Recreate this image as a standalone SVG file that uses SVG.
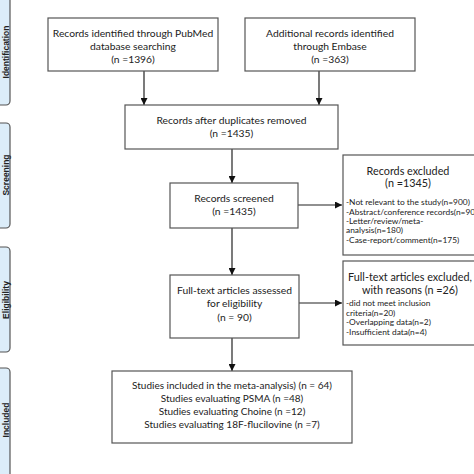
<svg xmlns="http://www.w3.org/2000/svg" width="474" height="474" viewBox="0 0 474 474">
<defs>
<style>
.box{fill:#fff;stroke:#555;stroke-width:1.2}
.tab{fill:#dcedf9;stroke:#555;stroke-width:1.2}
.t{font-family:Lato,"Open Sans",sans-serif;font-size:10.3px;fill:#222;text-anchor:middle}
.h{font-family:Lato,"Open Sans",sans-serif;font-size:10.8px;fill:#222;text-anchor:middle}
.s{font-family:Lato,"Open Sans",sans-serif;font-size:8.4px;fill:#222}
.lab{font-family:"Liberation Sans",Arial,sans-serif;font-size:8.5px;font-weight:bold;fill:#222;text-anchor:middle}
.c{stroke:#222;stroke-width:1.2;fill:none;marker-end:url(#ah)}
</style>
<marker id="ah" viewBox="0 0 10 10" refX="10" refY="5" markerWidth="7" markerHeight="7" markerUnits="userSpaceOnUse" orient="auto">
<path d="M0,0 L10,5 L0,10 z" fill="#111"/>
</marker>
</defs>
<rect width="474" height="474" fill="#fff"/>
<g id="tabs">
<g id="tab-identification"><rect class="tab" x="-20" y="-5" width="30" height="110" rx="4"/><text class="lab" transform="translate(8.5,52) rotate(-90)">Identification</text></g>
<g id="tab-screening"><rect class="tab" x="-20" y="123" width="30" height="105" rx="4"/><text class="lab" transform="translate(8.5,175) rotate(-90)">Screening</text></g>
<g id="tab-eligibility"><rect class="tab" x="-20" y="247" width="30" height="105" rx="4"/><text class="lab" transform="translate(8.5,300) rotate(-90)">Eligibility</text></g>
<g id="tab-included"><rect class="tab" x="-20" y="368" width="30" height="115" rx="4"/><text class="lab" transform="translate(8.5,420) rotate(-90)">Included</text></g>
</g>
<g id="connectors">
<path class="c" d="M144,71 V105"/>
<path class="c" d="M319,71 V105"/>
<path class="c" d="M232,149 V183"/>
<path class="c" d="M298,205 H342"/>
<path class="c" d="M232,228 V275"/>
<path class="c" d="M299,303 H342"/>
<path class="c" d="M232,338 V371"/>
</g>
<g id="n-pubmed"><rect class="box" x="48" y="18" width="170" height="53"/>
<text class="t" x="133" y="37">Records identified through PubMed</text>
<text class="t" x="133" y="50">database searching</text>
<text class="t" x="133" y="63">(n =1396)</text></g>
<g id="n-embase"><rect class="box" x="245" y="18" width="170" height="53"/>
<text class="t" x="330" y="37">Additional records identified</text>
<text class="t" x="330" y="50">through Embase</text>
<text class="t" x="330" y="63">(n =363)</text></g>
<g id="n-dedup"><rect class="box" x="125" y="105" width="213" height="44"/>
<text class="t" x="231.5" y="124">Records after duplicates removed</text>
<text class="t" x="231.5" y="137">(n =1435)</text></g>
<g id="n-screened"><rect class="box" x="170" y="183" width="128" height="45"/>
<text class="t" x="234" y="202">Records screened</text>
<text class="t" x="234" y="215">(n =1435)</text></g>
<g id="n-excluded"><rect class="box" x="343" y="155" width="133" height="100"/>
<text class="h" x="408" y="175">Records excluded</text>
<text class="h" x="408" y="187">(n =1345)</text>
<text class="s" x="346" y="205">-Not relevant to the study(n=900)</text>
<text class="s" x="346" y="214.5">-Abstract/conference records(n=900)</text>
<text class="s" x="346" y="224">-Letter/review/meta-</text>
<text class="s" x="346" y="233">analysis(n=180)</text>
<text class="s" x="346" y="242.5">-Case-report/comment(n=175)</text></g>
<g id="n-fulltext"><rect class="box" x="170" y="275" width="129" height="63"/>
<text class="t" x="234.5" y="294">Full-text articles assessed</text>
<text class="t" x="234.5" y="307">for eligibility</text>
<text class="t" x="234.5" y="321">(n = 90)</text></g>
<g id="n-ftexcluded"><rect class="box" x="343" y="261" width="133" height="84"/>
<text class="h" x="410" y="281">Full-text articles excluded,</text>
<text class="h" x="410" y="294">with reasons (n =26)</text>
<text class="s" x="346" y="306">-did not meet inclusion</text>
<text class="s" x="346" y="315.5">criteria(n=20)</text>
<text class="s" x="346" y="325">-Overlapping data(n=2)</text>
<text class="s" x="346" y="334.5">-Insufficient data(n=4)</text></g>
<g id="n-included"><rect class="box" x="112" y="371" width="240" height="72"/>
<text class="t" x="232" y="389" style="font-size:10px">Studies included in the meta-analysis) (n = 64)</text>
<text class="t" x="232" y="402" style="font-size:10px">Studies evaluating PSMA (n =48)</text>
<text class="t" x="232" y="415" style="font-size:10px">Studies evaluating Choine (n =12)</text>
<text class="t" x="232" y="428" style="font-size:10px">Studies evaluating 18F-flucilovine (n =7)</text></g>
</svg>
